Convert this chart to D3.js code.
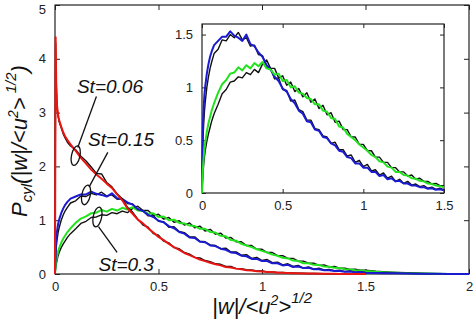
<!DOCTYPE html>
<html>
<head>
<meta charset="utf-8">
<script src="https://cdn.jsdelivr.net/npm/d3@7"></script>
<style>
  body { margin: 0; background: #fff; }
  svg { display: block; font-family: "Liberation Sans", Arial, sans-serif; }
  .tick text { font-size: 13px; fill: #222; }
  .tick line { stroke: #222; }
  .frame { fill: none; stroke: #222; stroke-width: 1.2px; }
  .curve { fill: none; stroke-linejoin: round; }
  .note { font-style: italic; font-size: 19px; fill: #111; }
  .title { font-style: italic; font-size: 22px; fill: #111; }
</style>
</head>
<body>
<div id="chart-area"></div>
<script>

// |w| bins shared by all pdfs
const wBins = [0, 0.003, 0.006, 0.01, 0.015, 0.02, 0.03, 0.04, 0.05, 0.06, 0.075,
  0.1, 0.125, 0.15, 0.175, 0.2, 0.225, 0.25, 0.275, 0.3, 0.325, 0.35, 0.375, 0.4, 0.425, 0.45, 0.475,
  0.5, 0.525, 0.55, 0.575, 0.6, 0.625, 0.65, 0.675, 0.7, 0.725, 0.75, 0.775, 0.8, 0.825, 0.85, 0.875,
  0.9, 0.925, 0.95, 0.975, 1.0, 1.025, 1.05, 1.075, 1.1, 1.125, 1.15, 1.175, 1.2, 1.225, 1.25, 1.275,
  1.3, 1.325, 1.35, 1.375, 1.4, 1.425, 1.45, 1.475, 1.5, 1.55, 1.6, 1.65, 1.7, 1.75, 1.8, 1.85,
  1.9, 1.95, 2.0];

// St = 0.06 (red) and its black reference
const pdfSt006 = [0, 4.4, 3.55, 3.12, 2.95, 2.86, 2.74, 2.63, 2.55, 2.49, 2.41,
  2.29, 2.16, 2.05, 1.94, 1.85, 1.77, 1.68, 1.60, 1.48, 1.37, 1.22, 1.12, 1.01, 0.94, 0.85, 0.77,
  0.69, 0.63, 0.56, 0.50, 0.45, 0.39, 0.35, 0.31, 0.27, 0.24, 0.21, 0.18, 0.16, 0.13, 0.12, 0.10,
  0.09, 0.07, 0.065, 0.05, 0.045, 0.035, 0.035, 0.025, 0.022, 0.018, 0.015, 0.012, 0.01, 0.008, 0.007, 0.005,
  0.004, 0.003, 0.003, 0.002, 0.002, 0.001, 0.001, 0.001, 0];
const refSt006 = [0, 4.3, 3.5, 3.1, 2.93, 2.83, 2.72, 2.6, 2.52, 2.45, 2.38,
  2.31, 2.19, 2.1, 1.99, 1.87, 1.86, 1.70, 1.62, 1.49, 1.40, 1.24, 1.15, 1.02, 0.91, 0.87, 0.75,
  0.72, 0.61, 0.58, 0.49, 0.47, 0.40, 0.37, 0.31, 0.30, 0.25, 0.23, 0.19, 0.18, 0.14, 0.14, 0.10,
  0.10, 0.08, 0.075, 0.055, 0.055, 0.04, 0.04, 0.03, 0.03, 0.02, 0.02, 0.015, 0.015, 0.01, 0.01, 0.008,
  0.006, 0.005, 0.004, 0.003, 0.003, 0.002, 0.001, 0.001, 0];

// St = 0.15 (blue) and its black reference
const pdfSt015 = [0, 0.45, 0.66, 0.80, 0.93, 1.01, 1.13, 1.22, 1.29, 1.34, 1.40,
  1.44, 1.48, 1.48, 1.53, 1.49, 1.47, 1.44, 1.50, 1.41, 1.39, 1.33, 1.29, 1.21, 1.17, 1.10, 1.06,
  0.99, 0.96, 0.89, 0.85, 0.78, 0.75, 0.68, 0.67, 0.60, 0.59, 0.53, 0.52, 0.47, 0.45, 0.40, 0.39,
  0.34, 0.33, 0.28, 0.28, 0.24, 0.24, 0.20, 0.20, 0.16, 0.17, 0.13, 0.14, 0.11, 0.115, 0.09, 0.09,
  0.07, 0.07, 0.055, 0.055, 0.04, 0.045, 0.03, 0.035, 0.025, 0.02, 0.015, 0.012, 0.008, 0.006, 0.004, 0.003,
  0.002, 0.001, 0];
const refSt015 = [0, 0.30, 0.50, 0.64, 0.77, 0.86, 1.0, 1.10, 1.18, 1.24, 1.32,
  1.36, 1.45, 1.44, 1.50, 1.47, 1.52, 1.45, 1.47, 1.39, 1.40, 1.31, 1.30, 1.20, 1.18, 1.08, 1.09,
  0.98, 0.97, 0.87, 0.88, 0.79, 0.77, 0.69, 0.69, 0.61, 0.60, 0.54, 0.53, 0.47, 0.48, 0.41, 0.41,
  0.35, 0.36, 0.29, 0.31, 0.25, 0.27, 0.21, 0.22, 0.17, 0.19, 0.14, 0.16, 0.11, 0.13, 0.09, 0.11,
  0.075, 0.085, 0.06, 0.07, 0.045, 0.055, 0.035, 0.045, 0.03, 0.025, 0.02, 0.015, 0.012, 0.008, 0.006, 0.004,
  0.003, 0.002, 0.001];

// St = 0.3 (green) and its black reference
const pdfSt03 = [0, 0.15, 0.24, 0.33, 0.42, 0.48, 0.58, 0.66, 0.72, 0.78, 0.85,
  0.95, 1.03, 1.07, 1.13, 1.14, 1.19, 1.16, 1.21, 1.18, 1.23, 1.20, 1.24, 1.18, 1.17, 1.12, 1.13,
  1.06, 1.07, 1.00, 1.01, 0.95, 0.94, 0.90, 0.89, 0.84, 0.84, 0.78, 0.77, 0.71, 0.70, 0.63, 0.62,
  0.56, 0.53, 0.50, 0.46, 0.43, 0.40, 0.36, 0.34, 0.30, 0.29, 0.25, 0.24, 0.20, 0.20, 0.17, 0.165,
  0.14, 0.135, 0.115, 0.11, 0.09, 0.085, 0.07, 0.065, 0.055, 0.04, 0.03, 0.022, 0.015, 0.01, 0.007, 0.004,
  0.002, 0.001, 0];
const refSt03 = [0, 0.10, 0.18, 0.26, 0.34, 0.40, 0.49, 0.56, 0.62, 0.68, 0.75,
  0.84, 0.94, 0.98, 1.05, 1.06, 1.10, 1.09, 1.14, 1.12, 1.17, 1.14, 1.22, 1.26, 1.18, 1.18, 1.09,
  1.11, 1.02, 1.05, 0.96, 0.99, 0.91, 0.95, 0.86, 0.89, 0.80, 0.83, 0.74, 0.76, 0.67, 0.68, 0.60,
  0.60, 0.53, 0.53, 0.46, 0.46, 0.40, 0.40, 0.34, 0.34, 0.29, 0.29, 0.24, 0.24, 0.20, 0.20, 0.16,
  0.17, 0.13, 0.14, 0.11, 0.11, 0.085, 0.09, 0.07, 0.07, 0.05, 0.04, 0.03, 0.022, 0.016, 0.011, 0.007,
  0.004, 0.002, 0.001];

const mainXTicks = [0, 0.5, 1, 1.5, 2];
const mainYTicks = [0, 1, 2, 3, 4, 5];
const insetTicks = [0, 0.5, 1, 1.5];

const stLabels = ["St=0.06", "St=0.15", "St=0.3"];

const width = 474, height = 322;

const svg = d3.select("#chart-area").append("svg")
    .attr("width", width)
    .attr("height", height);

// Main panel scales
const x = d3.scaleLinear().domain([0, 2]).range([55, 469]);
const y = d3.scaleLinear().domain([0, 5]).range([274, 5]);

// Inset scales
const xi = d3.scaleLinear().domain([0, 1.5]).range([202, 444]);
const yi = d3.scaleLinear().domain([0, 1.6]).range([193, 24]);

function series(vals) {
    return d3.zip(wBins, vals).map(d => ({ w: d[0], p: d[1] }));
}

function drawAxes(g, sx, sy, xTicks, yTicks, tick, fmt) {
    const [x0, x1] = sx.range(), [y0, y1] = sy.range();
    g.append("g")
        .attr("transform", "translate(0," + y0 + ")")
        .call(d3.axisBottom(sx).tickValues(xTicks).tickSize(-tick).tickPadding(8).tickFormat(fmt));
    g.append("g")
        .attr("transform", "translate(0," + y1 + ")")
        .call(d3.axisTop(sx).tickValues(xTicks).tickSize(-tick).tickFormat(""));
    g.append("g")
        .attr("class", "y-left")
        .attr("transform", "translate(" + x0 + ",0)")
        .call(d3.axisLeft(sy).tickValues(yTicks).tickSize(-tick).tickPadding(9).tickFormat(fmt));
    g.append("g")
        .attr("transform", "translate(" + x1 + ",0)")
        .call(d3.axisRight(sy).tickValues(yTicks).tickSize(-tick).tickFormat(""));
    g.selectAll(".domain").remove();
    g.selectAll(".tick text").attr("font-family", null).attr("font-size", null);
    g.append("rect")
        .attr("class", "frame")
        .attr("x", x0).attr("y", y1)
        .attr("width", x1 - x0).attr("height", y0 - y1);
}

const fmt = d3.format("");

// ---------- main panel ----------
const main = svg.append("g");
drawAxes(main, x, y, mainXTicks, mainYTicks, 5, fmt);

// top label sits against the edge, nudge it down a little
main.selectAll(".y-left .tick text")
    .filter(d => d === 5)
    .attr("dy", "0.62em");

const line = d3.line().x(d => x(d.w)).y(d => y(d.p));

const mainCurves = [
    { vals: refSt03, color: "#111", w: 1.4 },
    { vals: pdfSt03, color: "#22e21e", w: 2 },
    { vals: refSt015, color: "#111", w: 1.4 },
    { vals: pdfSt015, color: "#1a1ad0", w: 2 },
    { vals: refSt006, color: "#111", w: 1.4 },
    { vals: pdfSt006, color: "#ea1410", w: 2 }
];

main.selectAll(".curve")
    .data(mainCurves)
    .enter().append("path")
    .attr("class", "curve")
    .attr("stroke", d => d.color)
    .attr("stroke-width", d => d.w)
    .attr("d", d => line(series(d.vals)));

// St labels with ellipse markers and pointer lines (data coords)
const notes = [
    { text: stLabels[0], tx: 0.106, ty: 3.36, ex: 0.10, ey: 2.2, lx: 0.11, ly: 2.35, px: 0.2, py: 3.3 },
    { text: stLabels[1], tx: 0.16, ty: 2.38, ex: 0.15, ey: 1.47, lx: 0.165, ly: 1.62, px: 0.255, py: 2.26 },
    { text: stLabels[2], tx: 0.21, ty: 0.06, ex: 0.205, ey: 1.06, lx: 0.21, ly: 0.88, px: 0.3, py: 0.4 }
];

notes.forEach(n => {
    main.append("ellipse")
        .attr("cx", x(n.ex)).attr("cy", y(n.ey))
        .attr("rx", 4.2).attr("ry", 10)
        .attr("transform", "rotate(12," + x(n.ex) + "," + y(n.ey) + ")")
        .attr("fill", "none").attr("stroke", "#111").attr("stroke-width", 1.3);
    main.append("line")
        .attr("x1", x(n.lx)).attr("y1", y(n.ly))
        .attr("x2", x(n.px)).attr("y2", y(n.py))
        .attr("stroke", "#111").attr("stroke-width", 1.3);
    main.append("text")
        .attr("class", "note")
        .attr("x", x(n.tx)).attr("y", y(n.ty))
        .text(n.text);
});

// ---------- inset ----------
const inset = svg.append("g");
inset.append("rect")
    .attr("x", xi.range()[0]).attr("y", yi.range()[1])
    .attr("width", xi.range()[1] - xi.range()[0])
    .attr("height", yi.range()[0] - yi.range()[1])
    .attr("fill", "#fff");
drawAxes(inset, xi, yi, insetTicks, insetTicks, 4, fmt);

const lineI = d3.line().x(d => xi(d.w)).y(d => yi(d.p));

const insetCurves = [
    { vals: refSt03, color: "#111", w: 1.4 },
    { vals: refSt015, color: "#111", w: 1.4 },
    { vals: pdfSt015, color: "#1a1ad0", w: 2 },
    { vals: pdfSt03, color: "#22e21e", w: 2 }
];

inset.selectAll(".curve")
    .data(insetCurves)
    .enter().append("path")
    .attr("class", "curve")
    .attr("stroke", d => d.color)
    .attr("stroke-width", d => d.w)
    .attr("d", d => lineI(series(d.vals).filter(p => p.w <= 1.5)));

// ---------- axis titles ----------
const xTitle = svg.append("text")
    .attr("class", "title")
    .attr("x", 262).attr("y", 314)
    .attr("text-anchor", "middle");
xTitle.append("tspan").text("|w|/<u");
xTitle.append("tspan").attr("font-size", 14).attr("dy", -9).text("2");
xTitle.append("tspan").attr("dy", 9).text(">");
xTitle.append("tspan").attr("font-size", 15).attr("dy", -11).text("1/2");

const yTitle = svg.append("text")
    .attr("class", "title")
    .attr("transform", "translate(27,141) rotate(-90)")
    .attr("text-anchor", "middle");
yTitle.append("tspan").text("P");
yTitle.append("tspan").attr("font-size", 15).attr("dy", 5).text("cyl");
yTitle.append("tspan").attr("dy", -5).text("(|w|/<u");
yTitle.append("tspan").attr("font-size", 14).attr("dy", -9).text("2");
yTitle.append("tspan").attr("dy", 9).text(">");
yTitle.append("tspan").attr("font-size", 15).attr("dy", -11).text(" 1/2");
yTitle.append("tspan").attr("dy", 11).text(")");

</script>
</body>
</html>
